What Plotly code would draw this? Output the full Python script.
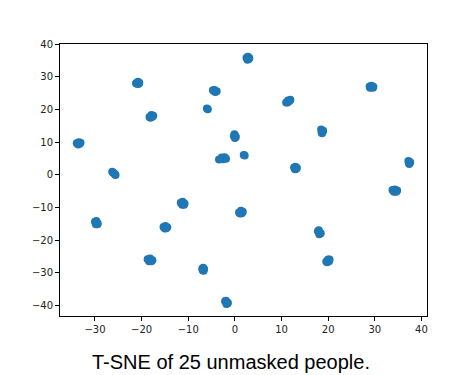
import plotly.graph_objects as go

# One list of points per person (25 clusters)
cluster_x = [
    [-33.9, -33.1, -33.5, -33.6, -33.3],
    [-26.3, -25.9, -25.6, -26.1, -25.7],
    [-21.2, -20.5, -20.8, -20.9, -20.6],
    [-18.3, -17.5, -17.9, -18.1, -17.7],
    [-4.7, -3.9, -4.4, -4.2, -4.5],
    [-6.0, -5.8],
    [-0.1, 0.1, 0.0, -0.2, 0.2],
    [-3.4, -2.8, -2.2, -2.6, -1.9],
    [2.5, 3.1, 2.8, 2.7, 3.0],
    [28.9, 29.7, 29.3, 29.0, 29.6],
    [11.0, 11.4, 11.9, 11.3, 11.7],
    [18.5, 18.9, 18.6, 18.7, 18.9],
    [1.9, 2.1],
    [12.7, 13.3, 13.0, 12.9, 13.1],
    [37.2, 37.5, 37.4, 37.3, 37.6],
    [-11.6, -10.8, -11.2, -11.3, -10.9],
    [-30.0, -29.4, -29.7, -29.8, -29.5],
    [-15.3, -14.5, -14.9, -15.0, -14.7],
    [-18.7, -17.7, -18.2, -18.4, -17.9],
    [-7.0, -6.6, -6.8, -6.9, -6.7],
    [-2.1, -1.5, -1.9, -1.8, -1.6],
    [0.9, 1.7, 1.3, 1.1, 1.5],
    [33.8, 34.8, 34.3, 34.1, 34.6],
    [17.8, 18.4, 18.0, 18.1, 18.3],
    [19.6, 20.3, 20.0, 19.8, 20.2],
]
cluster_y = [
    [9.7, 9.8, 10.0, 9.3, 9.5],
    [0.9, 0.5, -0.1, 0.6, 0.2],
    [28.1, 28.2, 28.5, 27.8, 27.9],
    [17.7, 18.1, 18.3, 17.5, 17.8],
    [25.9, 25.6, 26.0, 25.4, 25.7],
    [20.3, 20.1],
    [12.4, 11.9, 11.3, 11.8, 11.6],
    [4.7, 5.3, 5.4, 4.8, 4.9],
    [35.9, 35.8, 36.2, 35.3, 35.5],
    [27.1, 27.0, 27.3, 26.7, 26.7],
    [22.2, 22.8, 23.0, 22.2, 22.6],
    [13.9, 13.4, 13.0, 12.7, 13.5],
    [6.1, 5.9],
    [2.2, 2.1, 2.5, 1.7, 1.8],
    [4.2, 3.9, 3.3, 3.6, 3.8],
    [-8.6, -8.8, -8.3, -9.2, -9.2],
    [-14.4, -14.9, -14.2, -15.2, -15.2],
    [-16.0, -16.1, -15.7, -16.5, -16.4],
    [-25.9, -26.2, -25.7, -26.5, -26.5],
    [-28.8, -28.9, -28.5, -29.3, -29.4],
    [-38.8, -39.2, -38.6, -39.6, -39.5],
    [-11.6, -11.3, -11.0, -11.9, -11.8],
    [-4.7, -4.8, -4.5, -5.2, -5.2],
    [-17.3, -17.9, -17.0, -18.2, -18.0],
    [-26.6, -26.0, -26.0, -26.8, -26.5],
]
caption = "T-SNE of 25 unmasked people."

xs = [v for c in cluster_x for v in c]
ys = [v for c in cluster_y for v in c]

fig = go.Figure(go.Scatter(
    x=xs, y=ys, mode="markers",
    marker=dict(color="#1f77b4", size=8, line=dict(width=0)),
    hoverinfo="skip", showlegend=False,
))

axis_common = dict(
    showgrid=False, zeroline=False, showline=True, linecolor="black",
    linewidth=1, mirror=True, ticks="outside", ticklen=4, tickwidth=1,
    tickcolor="black", dtick=10,
    tickfont=dict(family="DejaVu Sans", size=10, color="#222"),
)
fig.update_layout(
    width=466, height=367,
    margin=dict(l=52, r=47, t=36, b=59),
    paper_bgcolor="white", plot_bgcolor="white",
    xaxis=dict(range=[-37.5, 41.2], tick0=0, **axis_common),
    yaxis=dict(range=[-43.3, 40.1], tick0=0, **axis_common),
    annotations=[dict(
        text=caption, xref="paper", yref="paper", x=0.465, y=-0.169,
        xanchor="center", yanchor="middle", showarrow=False,
        font=dict(family="Liberation Sans", size=20, color="black"),
    )],
)
fig.write_html("out.html")
